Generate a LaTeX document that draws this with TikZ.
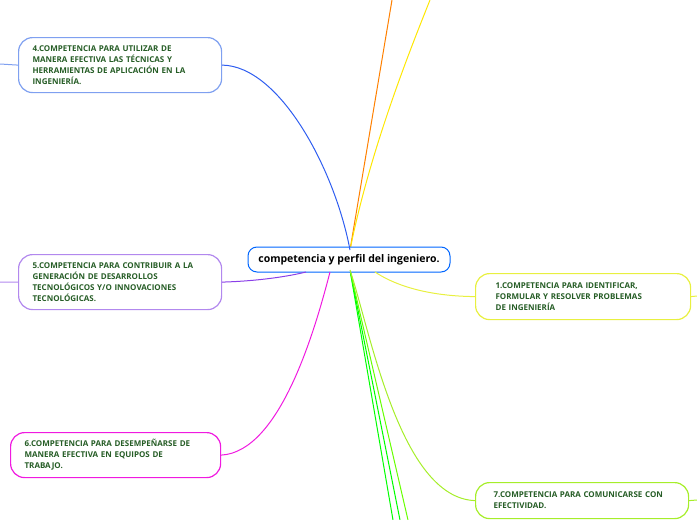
\documentclass[tikz,border=0pt]{standalone}
\usepackage{fontspec}
\setmainfont{Open Sans}
\begin{document}
\begin{tikzpicture}[x=1pt,y=-1pt,
  sub/.style={draw,line width=1.2pt,rounded corners=14pt,fill=white,text=green!25!black!85,
    font=\bfseries\fontsize{8}{11}\selectfont,align=left,inner xsep=14pt,inner ysep=0pt,anchor=north west},
  con/.style={line width=1pt}]
\useasboundingbox (0,0) rectangle (697,520);
\definecolor{cblue}{HTML}{2F5EF0}\definecolor{cblueb}{HTML}{7FA0F0}
\definecolor{cpurp}{HTML}{8A3FE8}\definecolor{cpurpb}{HTML}{B288EE}
\definecolor{cmag}{HTML}{F01AE0}
\definecolor{cyel}{HTML}{E8F040}\definecolor{clime}{HTML}{A6EE2A}
\coordinate (hub) at (350,250);
\coordinate (hubb) at (350,270);
\draw[con,orange] (hub) -- (392,0);
\draw[con,yellow!90!orange] (hub) .. controls (370,150) and (410,50) .. (430,0);
\draw[con,green] (hubb) -- (393,520);
\draw[con,green] (hubb) -- (400,520);
\draw[con,green!60!yellow] (hubb) -- (408,520);
\node[draw=blue!60!cyan,line width=1pt,rounded corners=9pt,fill=white,minimum width=202pt,minimum height=25pt,
  font=\bfseries\fontsize{10.5}{12}\selectfont] (c) at (349,259.5) {competencia y perfil del ingeniero.};
\node[sub,draw=cblueb,minimum width=203pt,minimum height=55pt,text width=175pt] (n4) at (18,37) {4.COMPETENCIA PARA UTILIZAR DE\\ MANERA EFECTIVA LAS TÉCNICAS Y\\ HERRAMIENTAS DE APLICACIÓN EN LA\\ INGENIERÍA.};
\node[sub,draw=cpurpb,minimum width=203pt,minimum height=55pt,text width=175pt] (n5) at (18,254) {5.COMPETENCIA PARA CONTRIBUIR A LA\\ GENERACIÓN DE DESARROLLOS\\ TECNOLÓGICOS Y/O INNOVACIONES\\ TECNOLÓGICAS.};
\node[sub,draw=cmag,minimum width=210pt,minimum height=45pt,text width=182pt] (n6) at (10,432) {6.COMPETENCIA PARA DESEMPEÑARSE DE\\ MANERA EFECTIVA EN EQUIPOS DE\\ TRABAJO.};
\node[sub,draw=cyel,minimum width=215pt,minimum height=46pt,text width=175pt,inner xsep=20pt] (n1) at (475,273) {1.COMPETENCIA PARA IDENTIFICAR,\\ FORMULAR Y RESOLVER PROBLEMAS\\ DE INGENIERÍA};
\node[sub,draw=clime,minimum width=213pt,minimum height=36pt,text width=177pt,inner xsep=18pt] (n7) at (475,482) {7.COMPETENCIA PARA COMUNICARSE CON\\ EFECTIVIDAD.};
\draw[con,cblue] (n4.east) .. controls (280,66) and (335,170) .. (hub);
\draw[con,cpurp] (n5.east) .. controls (260,281) and (290,276) .. (306,272);
\draw[con,cmag] (n6.east) .. controls (280,452) and (315,330) .. (330,272);
\draw[con,cyel] (n1.west) .. controls (420,296) and (390,282) .. (375,272);
\draw[con,clime] (n7.west) .. controls (400,498) and (370,330) .. (hubb);
\draw[cblueb,line width=1pt] (0,64) -- (n4.west);
\draw[cpurpb,line width=1pt] (0,282) -- (n5.west);
\draw[cyel,line width=1pt] (n1.east) -- (697,296);
\draw[clime,line width=1pt] (n7.east) -- (697,500);
\end{tikzpicture}
\end{document}
